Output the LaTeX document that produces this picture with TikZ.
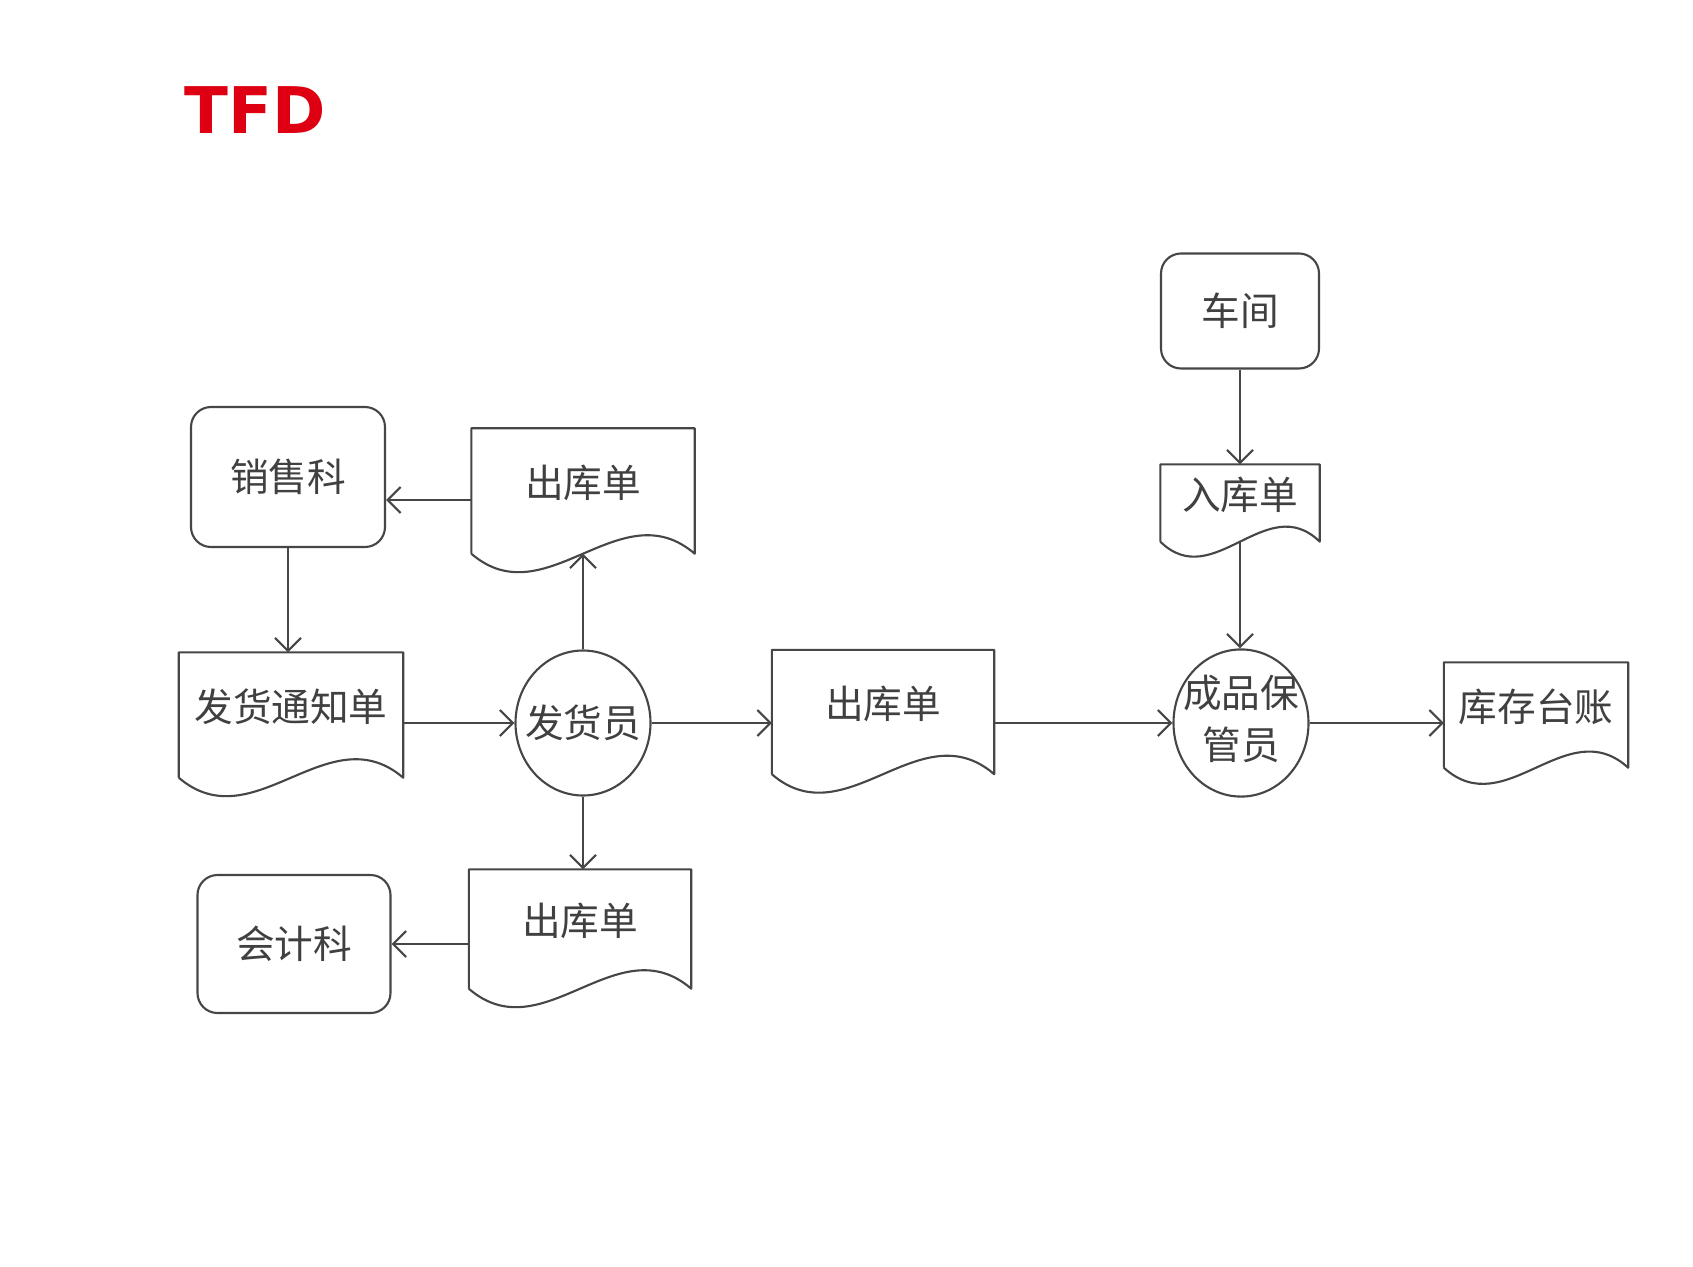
\documentclass[tikz,border=0pt]{standalone}
\usepackage{fontspec}
\setmainfont{Noto Sans CJK SC}
\newfontfamily\tfdfont{DejaVu Sans}
\usepackage{xcolor}
\usetikzlibrary{shapes.geometric, arrows.meta, calc}
\definecolor{tfdred}{RGB}{222,0,18}
\definecolor{linegray}{RGB}{70,70,70}
\tikzstyle{line} = [line width=0.6pt, draw=linegray, line join=round]
\tikzstyle{arrow} = [line, -{Straight Barb[length=1.3mm, width=2.6mm]}]

\begin{document}
\begin{tikzpicture}[
        x=0.1mm, y=-0.1mm,
        font=\fontsize{11pt}{14.8pt}\selectfont,
        % 外部实体
        ent/.style={line, draw, rounded corners=2mm, text=black!75},
        % 单据 (底边画波浪线)
        doc/.style={draw=none, text=black!75, text depth=2mm},
        % 处理 (人员)
        proc/.style={line, draw, ellipse, inner sep=0pt, minimum width=13.5mm, minimum height=14.5mm, text=black!75},
    ]
        \fill[white] (0,0) rectangle (1693,1266);
        \useasboundingbox (0,0) rectangle (1693,1266);

        % 1. 标题
        \node (tfd) [anchor=base west, inner sep=0pt, text=tfdred, font=\tfdfont\bfseries\fontsize{18.3pt}{20pt}\selectfont] at (184,133) {TFD};

        % 2. 外部实体
        \node (xsk) [ent, minimum width=19.4mm, minimum height=14mm] at (288,477) {销售科};
        \node (kjk) [ent, minimum width=19.3mm, minimum height=13.8mm] at (294,944) {会计科};
        \node (cj) [ent, minimum width=15.8mm, minimum height=11.5mm] at (1240,311) {车间};

        % 3. 单据
        \node (ck1) [doc, minimum width=22.2mm, minimum height=12.4mm] at (583,491) {出库单};
        \node (tzd) [doc, minimum width=22.3mm, minimum height=12.4mm] at (291,715) {发货通知单};
        \node (ck2) [doc, minimum width=22.1mm, minimum height=12.3mm] at (883,712) {出库单};
        \node (ck3) [doc, minimum width=22.1mm, minimum height=11.8mm] at (580,929) {出库单};
        \node (kctz) [doc, minimum width=18.3mm, minimum height=10.4mm] at (1536,715) {库存台账};
        \node (rkd) [doc, minimum width=15.8mm, minimum height=7.3mm] at (1240,503) {入库单};

        \foreach \n/\h in {ck1/64,tzd/64,ck2/64,ck3/64,kctz/56,rkd/52}
            \draw[line] (\n.south west) -- (\n.north west) -- (\n.north east) -- (\n.south east)
                .. controls ($(\n.south east)!0.333!(\n.south west)+(0,-\h)$) and ($(\n.south west)!0.333!(\n.south east)+(0,\h)$) .. (\n.south west);

        % 4. 处理
        \node (fhy) [proc] at (583,723) {\makebox[0pt]{发货员}};
        \node (cpb) [proc] at (1241,723) {\makebox[0pt]{\begin{tabular}{@{}c@{}}成品保\\管员\end{tabular}}};

        % 5. 流向
        \draw[arrow] ($(ck1.west)+(0,9)$) -- ($(ck1.west -| xsk.east)+(0,9)$);
        \draw[arrow] (xsk.south) -- (xsk.south |- tzd.north);
        \draw[arrow] (tzd.east |- fhy) -- (fhy.west);
        \draw[arrow] (fhy.north) -- (ck1.south);
        \draw[arrow] (fhy.east) -- (fhy.east -| ck2.west);
        \draw[arrow] (fhy.south) -- (fhy.south |- ck3.north);
        \draw[arrow] (ck3.west |- kjk) -- (kjk.east);
        \draw[arrow] (ck2.east |- cpb) -- (cpb.west);
        \draw[arrow] (cj.south) -- (rkd.north);
        \draw[arrow] (rkd.south) -- (rkd.south |- cpb.north);
        \draw[arrow] (cpb.east) -- (cpb.east -| kctz.west);

    \end{tikzpicture}
\end{document}
